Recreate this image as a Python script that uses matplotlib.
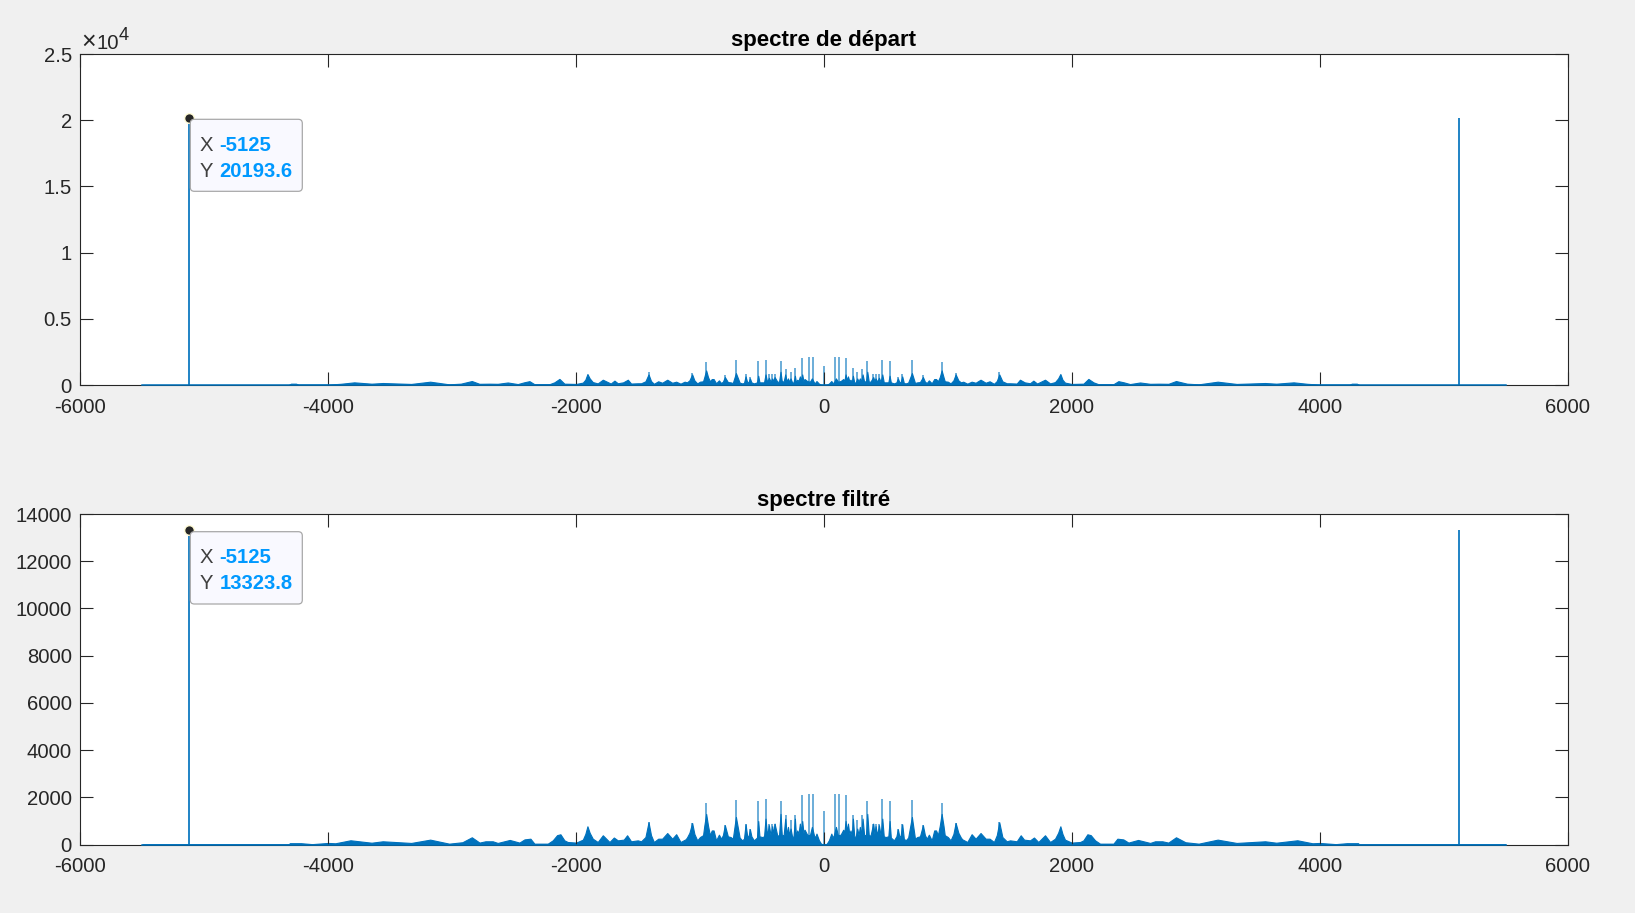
import numpy as np
import matplotlib
matplotlib.use('Agg')
import matplotlib.pyplot as plt
from matplotlib.patches import FancyBboxPatch
from matplotlib.transforms import IdentityTransform

W, H = 1635, 913

# values, positive half only (the spectrum is symmetric)
mass_freq_top = [0, 22, 40, 60, 70, 80, 97, 113, 135, 156, 165, 175, 185, 194, 205, 215, 225, 234, 245, 256,
                 269, 280, 290, 300, 312, 325, 340, 350, 362, 376, 398, 408, 417, 430, 444, 458, 471, 483, 498, 520,
                 530, 540, 565, 585, 597, 610, 620, 632, 645, 660, 680, 710, 735, 753, 775, 799, 815, 830, 847, 870,
                 890, 905, 920, 935, 950, 965, 975, 1000, 1022, 1045, 1063, 1085, 1105, 1124, 1157, 1192, 1224, 1264, 1305, 1337,
                 1372, 1395, 1415, 1440, 1475, 1502, 1556, 1582, 1620, 1663, 1690, 1720, 1784, 1825, 1865, 1890, 1908, 1925, 1945, 1999,
                 2094, 2134, 2175, 2215, 2336, 2376, 2420, 2470, 2551, 2632, 2700, 2780, 2841, 2930, 3024, 3177, 3330, 3560, 3650, 3790,
                 3900, 4000, 4240, 4260, 4300, 4320, 5500]
mass_amp_top = [20, 30, 100, 300, 150, 200, 500, 250, 300, 450, 300, 800, 350, 650, 300, 400, 200, 700, 200, 180,
                500, 250, 500, 250, 800, 250, 300, 1000, 250, 250, 600, 300, 500, 250, 550, 230, 800, 200, 200, 200,
                700, 200, 120, 200, 500, 180, 250, 650, 150, 120, 180, 900, 150, 200, 220, 600, 250, 150, 350, 130,
                450, 450, 280, 600, 1100, 600, 280, 250, 120, 350, 800, 350, 200, 250, 100, 250, 170, 400, 170, 280,
                90, 300, 800, 280, 130, 130, 110, 400, 200, 130, 330, 110, 400, 120, 220, 500, 830, 400, 180, 80,
                100, 460, 200, 60, 60, 290, 200, 70, 190, 90, 100, 90, 300, 100, 50, 250, 80, 150, 100, 200,
                90, 30, 30, 100, 100, 0, 0]

mass_freq_bot = [0, 22, 40, 60, 70, 80, 97, 113, 135, 156, 165, 175, 185, 194, 205, 215, 225, 234, 245, 256,
                 269, 280, 290, 300, 312, 325, 340, 350, 362, 376, 398, 408, 417, 430, 444, 458, 471, 483, 498, 520,
                 530, 540, 565, 585, 597, 610, 620, 632, 645, 660, 680, 710, 735, 753, 775, 799, 815, 830, 847, 870,
                 890, 905, 920, 935, 950, 965, 975, 1000, 1022, 1045, 1063, 1085, 1105, 1116, 1157, 1192, 1224, 1264, 1305, 1337,
                 1372, 1395, 1415, 1440, 1475, 1502, 1556, 1588, 1615, 1663, 1695, 1730, 1784, 1825, 1865, 1890, 1908, 1925, 1945, 1999,
                 2067, 2094, 2126, 2153, 2188, 2228, 2336, 2368, 2416, 2457, 2535, 2632, 2672, 2731, 2779, 2841, 2917, 3024, 3177, 3330,
                 3560, 3650, 3820, 3942, 4000, 4130, 4220, 4310, 4320, 5500]
mass_amp_bot = [20, 30, 180, 465, 300, 395, 750, 395, 420, 630, 500, 1000, 550, 890, 450, 600, 350, 1100, 350, 320,
                680, 400, 750, 400, 1100, 390, 420, 1300, 400, 380, 890, 450, 780, 400, 820, 380, 1100, 350, 320, 350,
                1000, 300, 180, 350, 650, 300, 400, 860, 250, 180, 300, 1170, 250, 320, 350, 820, 400, 250, 420, 180,
                600, 600, 400, 800, 1300, 800, 400, 320, 180, 450, 915, 500, 300, 225, 110, 440, 250, 490, 250, 250,
                110, 400, 945, 320, 140, 180, 140, 395, 210, 180, 300, 110, 395, 110, 250, 500, 775, 450, 210, 85,
                110, 180, 437, 400, 180, 40, 40, 250, 220, 85, 197, 70, 140, 140, 85, 310, 100, 40, 210, 70,
                140, 80, 183, 56, 70, 20, 60, 60, 0, 0]

spike_freq = [0, 89, 121, 175, 234, 264, 309, 350, 398, 422, 444, 471, 530, 597, 632, 710, 799, 950, 1063, 1415]
spike_amp_top = [1400, 2140, 2140, 2070, 1260, 1000, 1235, 1840, 830, 860, 860, 1915, 1840, 630, 860, 1865, 780, 1765, 900, 1000]
spike_amp_bot = [1410, 2157, 2157, 2087, 1240, 1030, 1240, 1860, 890, 890, 890, 1918, 1833, 650, 860, 1875, 820, 1763, 915, 945]

carrier_freq = 5125
carrier_amp_top = 20193.6
carrier_amp_bot = 13323.8

x_ticks = [-6000, -4000, -2000, 0, 2000, 4000, 6000]
y_ticks_top = [0, 5000, 10000, 15000, 20000, 25000]
y_labels_top = ['0', '0.5', '1', '1.5', '2', '2.5']
y_ticks_bot = [0, 2000, 4000, 6000, 8000, 10000, 12000, 14000]

BLUE = '#0072BD'
DARK = '#262626'
TICK_PT = 14.6
PX = 0.72  # one pixel in points at dpi 100

plt.rcParams['font.family'] = ['Liberation Sans', 'DejaVu Sans']
plt.rcParams['axes.axisbelow'] = False
plt.rcParams['axes.unicode_minus'] = False

fig = plt.figure(figsize=(W / 100, H / 100), dpi=100, facecolor='#F0F0F0')


def add_panel(top, bottom, title):
    ax = fig.add_axes([80.3 / W, 1 - bottom / H, (1567.5 - 80.3) / W, (bottom - top) / H])
    ax.set_xlim(-6000, 6000)
    ax.set_xticks(x_ticks)
    ax.tick_params(direction='in', length=13.3 * PX, width=1.1 * PX, color=DARK, labelcolor=DARK,
                   labelsize=TICK_PT, top=True, right=True)
    ax.tick_params(axis='x', pad=9)
    ax.tick_params(axis='y', pad=6)
    for s in ax.spines.values():
        s.set_color(DARK)
        s.set_linewidth(1.1 * PX)
    ax.set_title(title, fontsize=16, fontweight='bold', color='black', pad=5.5)
    return ax


def draw_spectrum(ax, mass_freq, mass_amp, spike_amp, carrier_amp):
    f = np.array(mass_freq)
    a = np.array(mass_amp)
    ax.fill_between(np.r_[-f[::-1], f], 0, np.r_[a[::-1], a], color=BLUE, lw=0.8, zorder=2)
    s = np.array(spike_freq)
    p = np.array(spike_amp)
    ax.vlines(np.r_[-s[:0:-1], s], 0, np.r_[p[:0:-1], p], color=BLUE, lw=1.6 * PX, alpha=0.7, zorder=2)
    ax.vlines([-carrier_freq, carrier_freq], 0, carrier_amp, color=BLUE, lw=1.7 * PX, zorder=2)
    ax.plot([-5500, 5500], [0, 0], color=BLUE, lw=1.5 * PX, zorder=3, clip_on=False)
    ax.plot(-carrier_freq, carrier_amp, 'o', ms=7, mfc=DARK, mec='#FFFBD8', mew=1, zorder=6, clip_on=False)


def data_tip(box, base_x, base_y, x_text, y_text):
    x0, y0, x1, y1 = box
    fig.add_artist(FancyBboxPatch((x0 + 3, H - y1 + 3), x1 - x0 - 6, y1 - y0 - 6,
                                  boxstyle='round,pad=3,rounding_size=4', transform=IdentityTransform(),
                                  fc='#F9F9FF', ec='#A5A5A5', lw=1.2 * PX, zorder=5))
    for name, value, yb in [('X', x_text, base_x), ('Y', y_text, base_y)]:
        fig.text(200 / W, 1 - yb / H, name, fontsize=TICK_PT, color='#404040', va='baseline', zorder=6)
        fig.text(219.5 / W, 1 - yb / H, value, fontsize=TICK_PT, color='#0099FF', fontweight='bold',
                 va='baseline', zorder=6)


ax1 = add_panel(54, 385, 'spectre de départ')
ax1.set_ylim(0, 25000)
ax1.set_yticks(y_ticks_top)
ax1.set_yticklabels(y_labels_top)
draw_spectrum(ax1, mass_freq_top, mass_amp_top, spike_amp_top, carrier_amp_top)
# scale factor above the axis
fig.text(81 / W, 1 - 49 / H, '\u00d7', fontsize=18, color=DARK, va='baseline')
fig.text(96.5 / W, 1 - 49 / H, '10', fontsize=TICK_PT, color=DARK, va='baseline')
fig.text(118.5 / W, 1 - 40 / H, '4', fontsize=TICK_PT * 0.9, color=DARK, va='baseline')
data_tip((190.3, 119.3, 302.3, 191.3), 150.7, 176.7, '-5125', '20193.6')

ax2 = add_panel(514, 844.6, 'spectre filtré')
ax2.set_ylim(0, 14000)
ax2.set_yticks(y_ticks_bot)
draw_spectrum(ax2, mass_freq_bot, mass_amp_bot, spike_amp_bot, carrier_amp_bot)
data_tip((190.3, 531.7, 302.3, 604), 562.7, 589, '-5125', '13323.8')

fig.savefig('out.png', dpi=100, facecolor=fig.get_facecolor())
